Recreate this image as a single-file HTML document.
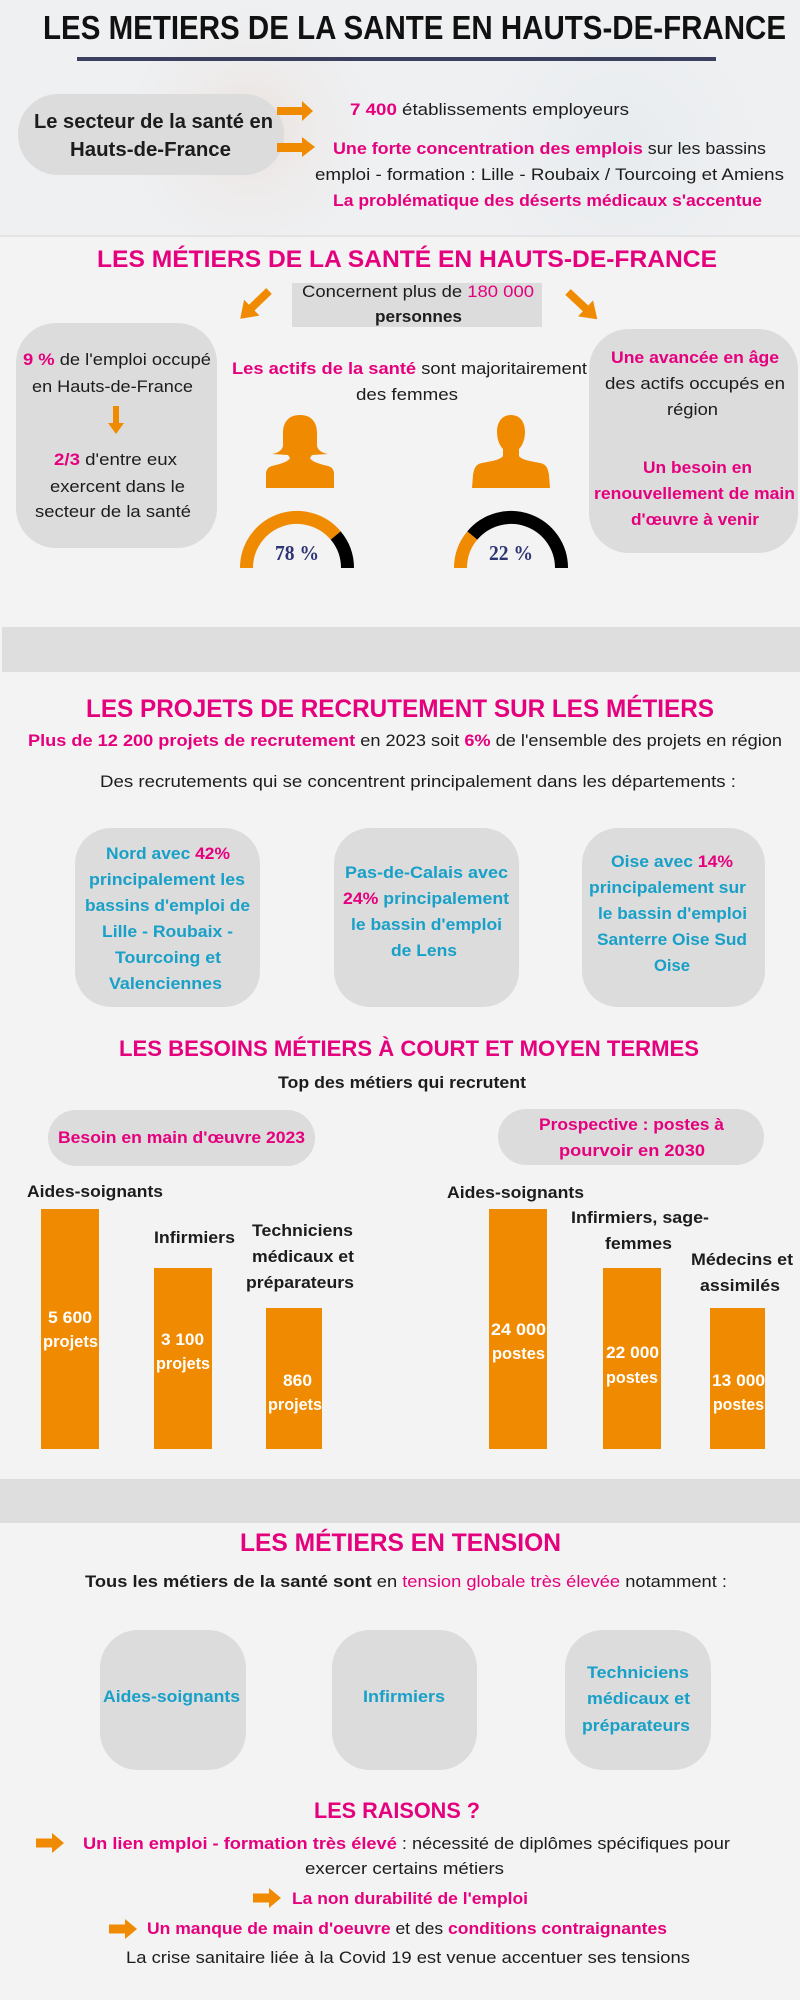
<!DOCTYPE html>
<html><head><meta charset="utf-8">
<style>
html,body{margin:0;padding:0;background:#f3f3f3;}
svg{display:block;}
text{font-family:"Liberation Sans",Arial,sans-serif;fill:#1c1c1c;}
.b{font-weight:bold;}
.p{fill:#e5007d;}
.c{fill:#18a0c8;}
.w{fill:#ffffff;}
</style></head>
<body>
<svg width="800" height="2000" viewBox="0 0 800 2000" xmlns="http://www.w3.org/2000/svg">
<defs>
<radialGradient id="g1" cx="250" cy="130" r="150" gradientUnits="userSpaceOnUse">
<stop offset="0" stop-color="#ebe1dc"/><stop offset="1" stop-color="#eef0f2" stop-opacity="0"/></radialGradient>
<radialGradient id="g2" cx="620" cy="150" r="200" gradientUnits="userSpaceOnUse">
<stop offset="0" stop-color="#e6ebee"/><stop offset="1" stop-color="#eef0f2" stop-opacity="0"/></radialGradient>
<g id="harr"><polygon points="0,-4.5 16,-4.5 16,-10 28,0 16,10 16,4.5 0,4.5" fill="#f08a00"/></g>
</defs>
<rect x="0" y="0" width="800" height="2000" fill="#f3f3f3"/>
<!-- header -->
<rect x="0" y="0" width="800" height="236" fill="#eff0f2"/>
<rect x="0" y="0" width="800" height="236" fill="url(#g1)"/>
<rect x="0" y="0" width="800" height="236" fill="url(#g2)"/>
<rect x="0" y="235" width="800" height="2" fill="#e4e4e4"/>
<text x="43" y="39" font-size="33" class="b" fill="#111" textLength="743" lengthAdjust="spacingAndGlyphs" style="fill:#111">LES METIERS DE LA SANTE EN HAUTS-DE-FRANCE</text>
<rect x="77" y="57" width="639" height="4" fill="#3d3f5f"/>
<rect x="18" y="94" width="266" height="81" rx="40" fill="#dcdcdc"/>
<text x="34" y="128" font-size="20" class="b" textLength="239" lengthAdjust="spacingAndGlyphs">Le secteur de la santé en</text>
<text x="70" y="156" font-size="20" class="b" textLength="161" lengthAdjust="spacingAndGlyphs">Hauts-de-France</text>
<polygon points="277,107 302,107 302,101 313,111 302,121 302,115 277,115" fill="#f08a00"/>
<polygon points="277,143 302,143 302,137 315,147 302,157 302,152 277,152" fill="#f08a00"/>
<text x="350" y="115" font-size="17" textLength="279" lengthAdjust="spacingAndGlyphs"><tspan class="p b">7 400</tspan> établissements employeurs</text>
<text x="333" y="154" font-size="17" textLength="433" lengthAdjust="spacingAndGlyphs"><tspan class="p b">Une forte concentration des emplois</tspan> sur les bassins</text>
<text x="315" y="180" font-size="17" textLength="469" lengthAdjust="spacingAndGlyphs">emploi - formation : Lille - Roubaix / Tourcoing et Amiens</text>
<text x="333" y="206" font-size="17" class="p b" textLength="429" lengthAdjust="spacingAndGlyphs">La problématique des déserts médicaux s'accentue</text>

<!-- section 2 -->
<text x="97" y="267" font-size="24" class="p b" textLength="620" lengthAdjust="spacingAndGlyphs">LES MÉTIERS DE LA SANTÉ EN HAUTS-DE-FRANCE</text>
<rect x="292" y="283" width="250" height="44" fill="#dcdcdc"/>
<text x="302" y="297" font-size="17" textLength="232" lengthAdjust="spacingAndGlyphs">Concernent plus de <tspan class="p">180 000</tspan></text>
<text x="375" y="322" font-size="17" class="b" textLength="87" lengthAdjust="spacingAndGlyphs">personnes</text>
<g transform="translate(269,291) rotate(136)"><polygon points="0,-4 24,-4 24,-11 40,0 24,11 24,4 0,4" fill="#f08a00"/></g>
<g transform="translate(568,292) rotate(43)"><polygon points="0,-4 24,-4 24,-11 40,0 24,11 24,4 0,4" fill="#f08a00"/></g>

<rect x="16" y="323" width="201" height="225" rx="40" fill="#dcdcdc"/>
<text x="23" y="365" font-size="17" textLength="188" lengthAdjust="spacingAndGlyphs"><tspan class="p b">9 %</tspan> de l'emploi occupé</text>
<text x="32" y="392" font-size="17" textLength="161" lengthAdjust="spacingAndGlyphs">en Hauts-de-France</text>
<polygon points="113,406 119,406 119,423 124,423 116,434 108,423 113,423" fill="#f08a00"/>
<text x="54" y="465" font-size="17" textLength="123" lengthAdjust="spacingAndGlyphs"><tspan class="p b">2/3</tspan> d'entre eux</text>
<text x="50" y="492" font-size="17" textLength="135" lengthAdjust="spacingAndGlyphs">exercent dans le</text>
<text x="35" y="517" font-size="17" textLength="156" lengthAdjust="spacingAndGlyphs">secteur de la santé</text>

<text x="232" y="374" font-size="17" textLength="355" lengthAdjust="spacingAndGlyphs"><tspan class="p b">Les actifs de la santé</tspan> sont majoritairement</text>
<text x="356" y="400" font-size="17" textLength="102" lengthAdjust="spacingAndGlyphs">des femmes</text>

<path d="M300 415 C288 415 283 423 283 433 L283 445 C283 450 278 453 272 454 L288 455 L290 458 C288 462 280 464 272 466 C268 467 266 470 266 474 L266 488 L334 488 L334 474 C334 470 332 467 328 466 C320 464 312 462 310 458 L312 455 L328 454 C322 453 317 450 317 445 L317 433 C317 423 312 415 300 415 Z" fill="#f08a00"/>
<path d="M511 415 C502 415 497 422 497 432 C497 440 500 446 503 449 L503 456 C500 460 492 461 482 463 C476 464 474 468 473 475 L472 488 L550 488 L549 475 C548 468 546 464 540 463 C530 461 522 460 519 456 L519 449 C522 446 525 440 525 432 C525 422 520 415 511 415 Z" fill="#f08a00"/>

<path d="M246.5 568 A50.5 50.5 0 0 1 335.7 535.5" fill="none" stroke="#f08a00" stroke-width="13"/>
<path d="M335.7 535.5 A50.5 50.5 0 0 1 347.5 568" fill="none" stroke="#000" stroke-width="13"/>
<path d="M460.5 568 A50.5 50.5 0 0 1 472.3 535.5" fill="none" stroke="#f08a00" stroke-width="13"/>
<path d="M472.3 535.5 A50.5 50.5 0 0 1 561.5 568" fill="none" stroke="#000" stroke-width="13"/>
<text x="275" y="560" font-size="21" class="b" textLength="44" lengthAdjust="spacingAndGlyphs" style="font-family:'Liberation Serif',serif;fill:#2e3575">78 %</text>
<text x="489" y="560" font-size="21" class="b" textLength="44" lengthAdjust="spacingAndGlyphs" style="font-family:'Liberation Serif',serif;fill:#2e3575">22 %</text>

<rect x="589" y="329" width="209" height="224" rx="40" fill="#dcdcdc"/>
<text x="611" y="363" font-size="17" class="p b" textLength="168" lengthAdjust="spacingAndGlyphs">Une avancée en âge</text>
<text x="605" y="389" font-size="17" textLength="180" lengthAdjust="spacingAndGlyphs">des actifs occupés en</text>
<text x="667" y="415" font-size="17" textLength="51" lengthAdjust="spacingAndGlyphs">région</text>
<text x="643" y="473" font-size="17" class="p b" textLength="109" lengthAdjust="spacingAndGlyphs">Un besoin en</text>
<text x="594" y="499" font-size="17" class="p b" textLength="201" lengthAdjust="spacingAndGlyphs">renouvellement de main</text>
<text x="631" y="525" font-size="17" class="p b" textLength="128" lengthAdjust="spacingAndGlyphs">d'œuvre à venir</text>

<!-- section 3 -->
<rect x="2" y="627" width="798" height="45" fill="#dedede"/>
<text x="86" y="717" font-size="25" class="p b" textLength="628" lengthAdjust="spacingAndGlyphs">LES PROJETS DE RECRUTEMENT SUR LES MÉTIERS</text>
<text x="28" y="746" font-size="17" textLength="754" lengthAdjust="spacingAndGlyphs"><tspan class="p b">Plus de 12 200 projets de recrutement</tspan> en 2023 soit <tspan class="p b">6%</tspan> de l'ensemble des projets en région</text>
<text x="100" y="787" font-size="17" textLength="636" lengthAdjust="spacingAndGlyphs">Des recrutements qui se concentrent principalement dans les départements :</text>

<rect x="75" y="828" width="185" height="179" rx="36" fill="#dcdcdc"/>
<rect x="334" y="828" width="185" height="179" rx="36" fill="#dcdcdc"/>
<rect x="582" y="828" width="183" height="179" rx="36" fill="#dcdcdc"/>
<text x="106" y="859" font-size="17" class="c b" textLength="124" lengthAdjust="spacingAndGlyphs">Nord avec <tspan class="p">42%</tspan></text>
<text x="89" y="885" font-size="17" class="c b" textLength="156" lengthAdjust="spacingAndGlyphs">principalement les</text>
<text x="85" y="911" font-size="17" class="c b" textLength="165" lengthAdjust="spacingAndGlyphs">bassins d'emploi de</text>
<text x="102" y="937" font-size="17" class="c b" textLength="131" lengthAdjust="spacingAndGlyphs">Lille - Roubaix -</text>
<text x="115" y="963" font-size="17" class="c b" textLength="106" lengthAdjust="spacingAndGlyphs">Tourcoing et</text>
<text x="109" y="989" font-size="17" class="c b" textLength="113" lengthAdjust="spacingAndGlyphs">Valenciennes</text>

<text x="345" y="878" font-size="17" class="c b" textLength="163" lengthAdjust="spacingAndGlyphs">Pas-de-Calais avec</text>
<text x="343" y="904" font-size="17" class="c b" textLength="166" lengthAdjust="spacingAndGlyphs"><tspan class="p">24%</tspan> principalement</text>
<text x="351" y="930" font-size="17" class="c b" textLength="151" lengthAdjust="spacingAndGlyphs">le bassin d'emploi</text>
<text x="391" y="956" font-size="17" class="c b" textLength="66" lengthAdjust="spacingAndGlyphs">de Lens</text>

<text x="611" y="867" font-size="17" class="c b" textLength="122" lengthAdjust="spacingAndGlyphs">Oise avec <tspan class="p">14%</tspan></text>
<text x="589" y="893" font-size="17" class="c b" textLength="157" lengthAdjust="spacingAndGlyphs">principalement sur</text>
<text x="598" y="919" font-size="17" class="c b" textLength="149" lengthAdjust="spacingAndGlyphs">le bassin d'emploi</text>
<text x="597" y="945" font-size="17" class="c b" textLength="150" lengthAdjust="spacingAndGlyphs">Santerre Oise Sud</text>
<text x="654" y="971" font-size="17" class="c b" textLength="36" lengthAdjust="spacingAndGlyphs">Oise</text>

<!-- section 4 -->
<text x="119" y="1056" font-size="22" class="p b" textLength="580" lengthAdjust="spacingAndGlyphs">LES BESOINS MÉTIERS À COURT ET MOYEN TERMES</text>
<text x="278" y="1088" font-size="17" class="b" textLength="248" lengthAdjust="spacingAndGlyphs">Top des métiers qui recrutent</text>
<rect x="48" y="1110" width="267" height="56" rx="28" fill="#dcdcdc"/>
<text x="58" y="1143" font-size="17" class="p b" textLength="247" lengthAdjust="spacingAndGlyphs">Besoin en main d'œuvre 2023</text>
<rect x="498" y="1109" width="266" height="56" rx="28" fill="#dcdcdc"/>
<text x="539" y="1130" font-size="17" class="p b" textLength="185" lengthAdjust="spacingAndGlyphs">Prospective : postes à</text>
<text x="559" y="1156" font-size="17" class="p b" textLength="146" lengthAdjust="spacingAndGlyphs">pourvoir en  2030</text>

<rect x="41" y="1209" width="58" height="240" fill="#f08a00"/>
<rect x="154" y="1268" width="58" height="181" fill="#f08a00"/>
<rect x="266" y="1308" width="56" height="141" fill="#f08a00"/>
<rect x="489" y="1209" width="58" height="240" fill="#f08a00"/>
<rect x="603" y="1268" width="58" height="181" fill="#f08a00"/>
<rect x="710" y="1308" width="55" height="141" fill="#f08a00"/>

<text x="27" y="1197" font-size="17" class="b" textLength="136" lengthAdjust="spacingAndGlyphs">Aides-soignants</text>
<text x="154" y="1243" font-size="17" class="b" textLength="81" lengthAdjust="spacingAndGlyphs">Infirmiers</text>
<text x="252" y="1236" font-size="17" class="b" textLength="101" lengthAdjust="spacingAndGlyphs">Techniciens</text>
<text x="252" y="1262" font-size="17" class="b" textLength="102" lengthAdjust="spacingAndGlyphs">médicaux et</text>
<text x="246" y="1288" font-size="17" class="b" textLength="108" lengthAdjust="spacingAndGlyphs">préparateurs</text>

<text x="447" y="1198" font-size="17" class="b" textLength="137" lengthAdjust="spacingAndGlyphs">Aides-soignants</text>
<text x="571" y="1223" font-size="17" class="b" textLength="138" lengthAdjust="spacingAndGlyphs">Infirmiers, sage-</text>
<text x="605" y="1249" font-size="17" class="b" textLength="67" lengthAdjust="spacingAndGlyphs">femmes</text>
<text x="691" y="1265" font-size="17" class="b" textLength="102" lengthAdjust="spacingAndGlyphs">Médecins et</text>
<text x="700" y="1291" font-size="17" class="b" textLength="80" lengthAdjust="spacingAndGlyphs">assimilés</text>

<text x="48" y="1323" font-size="17" class="w b" textLength="44" lengthAdjust="spacingAndGlyphs">5 600</text>
<text x="43" y="1347" font-size="17" class="w b" textLength="55" lengthAdjust="spacingAndGlyphs">projets</text>
<text x="161" y="1345" font-size="17" class="w b" textLength="43" lengthAdjust="spacingAndGlyphs">3 100</text>
<text x="156" y="1369" font-size="17" class="w b" textLength="54" lengthAdjust="spacingAndGlyphs">projets</text>
<text x="283" y="1386" font-size="17" class="w b" textLength="29" lengthAdjust="spacingAndGlyphs">860</text>
<text x="268" y="1410" font-size="17" class="w b" textLength="54" lengthAdjust="spacingAndGlyphs">projets</text>
<text x="491" y="1335" font-size="17" class="w b" textLength="55" lengthAdjust="spacingAndGlyphs">24 000</text>
<text x="492" y="1359" font-size="17" class="w b" textLength="53" lengthAdjust="spacingAndGlyphs">postes</text>
<text x="606" y="1358" font-size="17" class="w b" textLength="53" lengthAdjust="spacingAndGlyphs">22 000</text>
<text x="606" y="1383" font-size="17" class="w b" textLength="52" lengthAdjust="spacingAndGlyphs">postes</text>
<text x="712" y="1386" font-size="17" class="w b" textLength="53" lengthAdjust="spacingAndGlyphs">13 000</text>
<text x="713" y="1410" font-size="17" class="w b" textLength="51" lengthAdjust="spacingAndGlyphs">postes</text>

<!-- section 5 -->
<rect x="0" y="1479" width="800" height="44" fill="#dedede"/>
<text x="240" y="1551" font-size="25" class="p b" textLength="321" lengthAdjust="spacingAndGlyphs">LES MÉTIERS EN TENSION</text>
<text x="85" y="1587" font-size="17" textLength="642" lengthAdjust="spacingAndGlyphs"><tspan class="b">Tous les métiers de la santé sont</tspan> en <tspan class="p">tension globale très élevée</tspan> notamment :</text>
<rect x="100" y="1630" width="146" height="140" rx="38" fill="#dcdcdc"/>
<rect x="332" y="1630" width="145" height="140" rx="38" fill="#dcdcdc"/>
<rect x="565" y="1630" width="146" height="140" rx="38" fill="#dcdcdc"/>
<text x="103" y="1702" font-size="17" class="c b" textLength="137" lengthAdjust="spacingAndGlyphs">Aides-soignants</text>
<text x="363" y="1702" font-size="17" class="c b" textLength="82" lengthAdjust="spacingAndGlyphs">Infirmiers</text>
<text x="587" y="1678" font-size="17" class="c b" textLength="102" lengthAdjust="spacingAndGlyphs">Techniciens</text>
<text x="587" y="1704" font-size="17" class="c b" textLength="103" lengthAdjust="spacingAndGlyphs">médicaux et</text>
<text x="582" y="1731" font-size="17" class="c b" textLength="108" lengthAdjust="spacingAndGlyphs">préparateurs</text>

<text x="314" y="1818" font-size="22" class="p b" textLength="166" lengthAdjust="spacingAndGlyphs">LES RAISONS ?</text>
<use href="#harr" transform="translate(36,1843)"/>
<text x="83" y="1849" font-size="17" textLength="647" lengthAdjust="spacingAndGlyphs"><tspan class="p b">Un lien emploi - formation très élevé</tspan> : nécessité de diplômes spécifiques pour</text>
<text x="305" y="1874" font-size="17" textLength="199" lengthAdjust="spacingAndGlyphs">exercer certains métiers</text>
<use href="#harr" transform="translate(253,1898)"/>
<text x="292" y="1904" font-size="17" class="p b" textLength="236" lengthAdjust="spacingAndGlyphs">La non durabilité de l'emploi</text>
<use href="#harr" transform="translate(109,1929)"/>
<text x="147" y="1934" font-size="17" textLength="520" lengthAdjust="spacingAndGlyphs"><tspan class="p b">Un manque de main d'oeuvre</tspan> et des <tspan class="p b">conditions contraignantes</tspan></text>
<text x="126" y="1963" font-size="17" textLength="564" lengthAdjust="spacingAndGlyphs">La crise sanitaire liée à la Covid 19 est venue accentuer ses tensions</text>
</svg>
</body></html>
